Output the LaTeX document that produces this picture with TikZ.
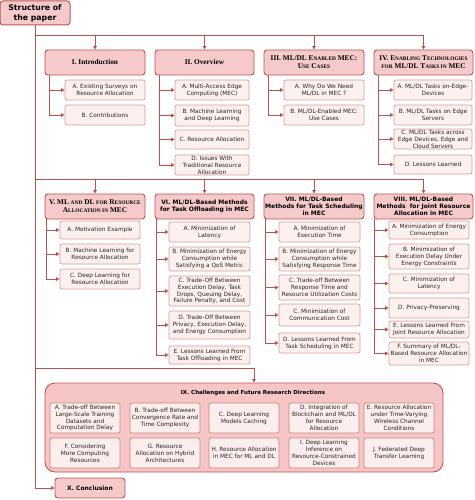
\documentclass[tikz,border=0pt]{standalone}
\usepackage{fontspec}
\setmainfont{DejaVu Sans}
\newfontfamily\hserif{Liberation Serif}
\usetikzlibrary{arrows.meta}
\definecolor{hdrfill}{HTML}{F6CACA}
\definecolor{hdrdraw}{HTML}{B85450}
\definecolor{subfill}{HTML}{FDF1EF}
\definecolor{subdraw}{HTML}{D59C98}
\definecolor{linec}{HTML}{B85450}
\definecolor{txt}{HTML}{262626}
\definecolor{ixfill}{HTML}{F5C6C5}
\definecolor{ixsubfill}{HTML}{FCEEEC}
\definecolor{ixsubdraw}{HTML}{C98580}
\newcommand{\smc}[1]{{\fontsize{5.4}{5.5}\selectfont\MakeUppercase{#1}}}
\newcommand{\mkbox}[7]{\node[#1, minimum width={#5-#3}, minimum height={#6-#4}] (#2) at ({(#3+#5)/2},{(#4+#6)/2}) {#7};}
\tikzset{
  hdr/.style={draw=hdrdraw, fill=hdrfill, line width=0.9pt, rounded corners=3pt, inner sep=0.5pt, align=center, font=\fontsize{6}{7}\selectfont\bfseries, text=black},
  hdrs/.style={hdr, font=\hserif\fontsize{7.3}{8}\selectfont\bfseries},
  sub/.style={draw=subdraw, fill=subfill, line width=0.7pt, rounded corners=2pt, inner sep=0pt, align=center, font=\fontsize{5.8}{6.9}\selectfont, text=txt},
  ixsub/.style={sub, draw=ixsubdraw, fill=ixsubfill},
  ixbox/.style={draw=hdrdraw, fill=ixfill, line width=0.9pt, rounded corners=10pt, inner sep=0pt},
  root/.style={draw=hdrdraw, fill=hdrfill, line width=1pt, rounded corners=3pt, inner sep=1pt, align=center, font=\fontsize{7.8}{10}\selectfont\bfseries, text=black},
  conn/.style={draw=linec, line width=0.9pt},
  arr/.style={conn, -{Triangle[length=3.5pt,width=3.5pt]}}
}
\begin{document}
\begin{tikzpicture}[x=1pt,y=-1pt]
\useasboundingbox (0,0) rectangle (474,500);
% root
\mkbox{root}{struct}{0}{1}{70}{25}{Structure of\\the paper}
% row 1 headers
\mkbox{hdrs}{sI}{45}{50}{145}{75}{I. Introduction}
\mkbox{hdrs}{sII}{155}{50}{254}{75}{II. Overview}
\mkbox{hdrs}{sIII}{264}{50}{364}{75}{III. ML/DL E\smc{nabled} MEC:\\U\smc{se} C\smc{ases}}
\mkbox{hdrs}{sIV}{374}{50}{473}{75}{IV. E\smc{nabling} T\smc{echnologies}\\\smc{for} ML/DL T\smc{asks in} MEC}
% row 1 subs
\mkbox{sub}{IA}{65}{80}{145}{100}{A. Existing Surveys on\\Resource Allocation}
\mkbox{sub}{IB}{65}{105}{145}{125}{B. Contributions}
\mkbox{sub}{IIA}{175}{80}{249}{100}{A. Multi-Access Edge\\Computing (MEC)}
\mkbox{sub}{IIB}{175}{105}{249}{126}{B. Machine Learning\\and Deep Learning}
\mkbox{sub}{IIC}{175}{130}{249}{149}{C. Resource Allocation}
\mkbox{sub}{IID}{175}{155}{249}{175}{D. Issues With\\Traditional Resource\\Allocation}
\mkbox{sub}{IIIA}{284}{80}{364}{100}{A. Why Do We Need\\ML/DL in MEC ?}
\mkbox{sub}{IIIB}{284}{105}{364}{125}{B. ML/DL-Enabled MEC:\\Use Cases}
\mkbox{sub}{IVA}{394}{80}{472}{100}{A. ML/DL Tasks on-Edge-\\Devices}
\mkbox{sub}{IVB}{394}{105}{472}{125}{B. ML/DL Tasks on Edge\\Servers}
\mkbox{sub}{IVC}{394}{129}{472}{149}{C. ML/DL Tasks across\\Edge Devices, Edge and\\Cloud Servers}
\mkbox{sub}{IVD}{394}{155}{472}{174}{D. Lessons Learned}
% row 2 headers
\mkbox{hdrs}{sV}{45}{194}{145}{219}{V. ML \smc{and} DL \smc{for} R\smc{esource}\\A\smc{llocation in} MEC}
\mkbox{hdr}{sVI}{155}{194}{254}{219}{VI. ML/DL-Based Methods\\for Task Offloading in MEC}
\mkbox{hdr}{sVII}{264}{194}{364}{219}{VII. ML/DL-Based\\Methods for Task Scheduling\\in MEC}
\mkbox{hdr}{sVIII}{374}{194}{473}{219}{VIII. ML/DL-Based\\Methods\ \ for Joint Resource\\Allocation in MEC}
% row 2 subs
\mkbox{sub}{VA}{60}{221}{140}{239}{A. Motivation Example}
\mkbox{sub}{VB}{60}{244}{140}{264}{B. Machine Learning for\\Resource Allocation}
\mkbox{sub}{VC}{60}{269}{140}{289}{C. Deep Learning for\\Resource Allocation}
\mkbox{sub}{VIA}{169}{222}{250}{242}{A. Minimization of\\Latency}
\mkbox{sub}{VIB}{169}{247}{250}{271}{B. Minimization of Energy\\Consumption while\\Satisfying a QoS Metric}
\mkbox{sub}{VIC}{169}{276}{250}{306}{C. Trade-Off Between\\Execution Delay, Task\\Drops, Queuing Delay,\\Failure Penalty, and Cost}
\mkbox{sub}{VID}{169}{311}{250}{339}{D. Trade-Off Between\\Privacy, Execution Delay,\\and Energy Consumption}
\mkbox{sub}{VIE}{169}{346}{250}{364}{E. Lessons Learned From\\Task Offloading in MEC}
\mkbox{sub}{VIIA}{279}{222}{360}{242}{A. Minimization of\\Execution Time}
\mkbox{sub}{VIIB}{279}{247}{360}{271}{B. Minimization of Energy\\Consumption while\\Satisfying Response Time}
\mkbox{sub}{VIIC}{279}{275}{360}{300}{C. Trade-off Between\\Response Time and\\Resource Utilization Costs}
\mkbox{sub}{VIID}{279}{304}{360}{326}{C. Minimization of\\Communication Cost}
\mkbox{sub}{VIIE}{279}{333}{360}{353}{D. Lessons Learned From\\Task Scheduling in MEC}
\mkbox{sub}{VIIIA}{389}{221}{469}{239}{A. Minimization of Energy\\Consumption}
\mkbox{sub}{VIIIB}{389}{244}{469}{269}{B. Minimization of\\Execution Delay Under\\Energy Constraints}
\mkbox{sub}{VIIIC}{389}{274}{469}{293}{C. Minimization of\\Latency}
\mkbox{sub}{VIIID}{389}{298}{469}{318}{D. Privacy-Preserving}
\mkbox{sub}{VIIIE}{389}{321}{469}{338}{E. Lessons Learned From\\Joint Resource Allocation}
\mkbox{sub}{VIIIF}{389}{342}{469}{365}{F. Summary of ML/DL-\\Based Resource Allocation\\in MEC}
% IX
\mkbox{ixbox}{IX}{45}{383}{443}{472}{}
\node[font=\fontsize{5.5}{6.8}\selectfont\bfseries, text=black] (IXt) at (253,393) {IX. Challenges and Future Research Directions};
\mkbox{ixsub}{IXA}{50}{403}{120}{433}{A. Trade-off Between\\Large-Scale Training\\Datasets and\\Computation Delay}
\mkbox{ixsub}{IXB}{130}{403}{200}{433}{B. Trade-off Between\\Convergence Rate and\\Time Complexity}
\mkbox{ixsub}{IXC}{209}{403}{279}{433}{C. Deep Learning\\Models Caching}
\mkbox{ixsub}{IXD}{289}{403}{359}{433}{D. Integration of\\Blockchain and ML/DL\\for Resource\\Allocation}
\mkbox{ixsub}{IXE}{364}{403}{434}{433}{E. Resource Allocation\\under Time-Varying\\Wireless Channel\\Conditions}
\mkbox{ixsub}{IXF}{50}{438}{120}{468}{F. Considering\\More Computing\\Resources}
\mkbox{ixsub}{IXG}{130}{438}{200}{468}{G. Resource\\Allocation on Hybrid\\Architectures}
\mkbox{ixsub}{IXH}{209}{438}{279}{468}{H. Resource Allocation\\in MEC for ML and DL}
\mkbox{ixsub}{IXI}{289}{438}{359}{468}{I. Deep Learning\\Inference on\\Resource-Constrained\\Devices}
\mkbox{ixsub}{IXJ}{364}{438}{434}{468}{J. Federated Deep\\Transfer Learning}
% X
\mkbox{hdr}{concl}{55}{478}{125}{498}{X. Conclusion}
% connectors
\coordinate (b1) at (35,35);
\coordinate (b2) at (35,179);
\coordinate (b3) at (35,368);
\draw[arr] (struct.south) |- (concl.west);
\foreach \n in {sI,sII,sIII,sIV} \draw[arr] (b1) -| (\n.north);
\foreach \n in {sV,sVI,sVII,sVIII} \draw[arr] (b2) -| (\n.north);
\draw[arr] (b3) -| ([xshift=10pt]IX.north);
\foreach \n in {IA,IB} \draw[arr] ([xshift=5pt]sI.south west) |- (\n.west);
\foreach \n in {IIA,IIB,IIC,IID} \draw[arr] ([xshift=5pt]sII.south west) |- (\n.west);
\foreach \n in {IIIA,IIIB} \draw[arr] ([xshift=5pt]sIII.south west) |- (\n.west);
\foreach \n in {IVA,IVB,IVC,IVD} \draw[arr] ([xshift=5pt]sIV.south west) |- (\n.west);
\foreach \n in {VA,VB,VC} \draw[arr] ([xshift=2pt]sV.south west) |- (\n.west);
\foreach \n in {VIA,VIB,VIC,VID,VIE} \draw[arr] ([xshift=2pt]sVI.south west) |- (\n.west);
\foreach \n in {VIIA,VIIB,VIIC,VIID,VIIE} \draw[arr] ([xshift=2pt]sVII.south west) |- (\n.west);
\foreach \n in {VIIIA,VIIIB,VIIIC,VIIID,VIIIE,VIIIF} \draw[arr] ([xshift=1pt]sVIII.south west) |- (\n.west);
\end{tikzpicture}
\end{document}
